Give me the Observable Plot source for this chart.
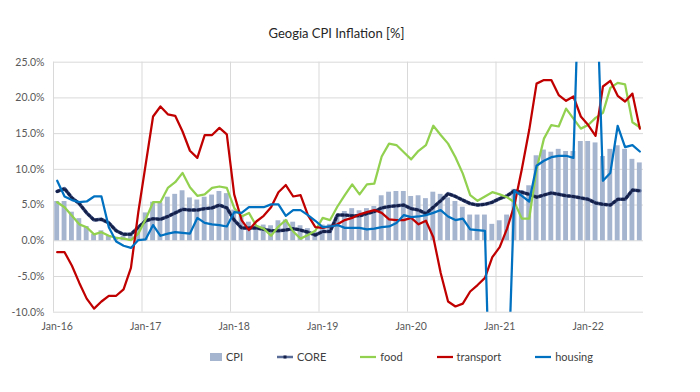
<!DOCTYPE html>
<html><head><meta charset="utf-8">
<script src="https://cdn.jsdelivr.net/npm/d3@7"></script>
<script src="https://cdn.jsdelivr.net/npm/@observablehq/plot@0.6"></script>
<style>
body{margin:0;background:#fff;font-family:Lato,"Open Sans",sans-serif;}
#wrap{position:relative;width:700px;height:392px;overflow:hidden;background:#fff}
#title{position:absolute;left:0;width:673px;top:25px;text-align:center;font-size:13px;color:#262626;line-height:16px}
#chart{position:absolute;left:0;top:50px}
#legend{position:absolute;left:210px;top:350px;display:flex;gap:34px;font-size:11px;color:#404040;align-items:center;line-height:14px}
.item{display:flex;align-items:center;gap:4px}
.item svg{display:block}
</style></head>
<body>
<div id="wrap">
  <div id="title">Geogia CPI Inflation [%]</div>
  <div id="chart"></div>
  <div id="legend"></div>
</div>
<script>
// Tick labels and y ticks
const xLabels = ["Jan-16","Jan-17","Jan-18","Jan-19","Jan-20","Jan-21","Jan-22"];
const yTicks = [-10,-5,0,5,10,15,20,25];

// Monthly series, Jan-2016 .. Aug-2022 (annual % change)
const cpi = [
  5.5,5.5,4.0,3.1,2.0,0.9,1.4,0.7,0.5,0.6,0.9,1.8,
  3.9,5.4,5.3,6.1,6.5,7.0,6.0,5.7,6.1,6.4,6.9,6.6,
  4.3,3.6,2.6,2.1,2.2,2.1,2.8,2.9,2.6,2.1,1.7,1.2,
  2.2,2.3,3.4,4.1,4.5,4.2,4.5,4.8,6.3,6.8,6.9,6.9,
  6.2,6.3,5.9,6.8,6.5,6.0,5.5,4.7,3.6,3.6,3.6,2.3,
  2.8,3.6,7.2,7.0,7.7,11.9,12.7,12.4,12.8,12.5,12.5,13.9,
  13.9,13.7,11.8,12.8,13.3,12.8,11.4,10.9
];
const core = [
  6.9,7.3,6.0,5.2,3.9,2.9,3.0,2.5,1.4,0.9,0.9,1.9,
  2.8,3.1,3.0,3.4,3.9,4.4,4.3,4.3,4.5,4.6,5.0,4.6,
  2.9,1.8,1.8,1.8,1.6,1.4,1.4,1.5,1.7,1.5,1.2,0.8,
  1.3,1.3,3.6,3.6,3.5,3.5,3.8,4.1,4.6,4.8,4.9,5.0,
  4.5,4.3,3.8,4.7,5.6,6.6,6.2,5.7,5.2,5.0,5.1,5.4,
  5.9,6.3,7.0,6.8,6.5,6.1,6.4,6.7,6.5,6.3,6.2,6.0,
  5.8,5.3,5.1,5.0,5.8,5.8,7.1,7.0
];
const food = [
  5.4,4.7,3.5,2.3,1.9,0.9,1.2,0.7,0.4,0.3,0.1,1.0,
  3.0,5.4,5.4,7.4,8.2,9.5,7.5,6.3,6.5,7.4,7.6,7.4,
  4.6,3.4,3.9,2.1,1.7,0.7,2.0,2.9,1.3,0.3,0.8,1.4,
  3.2,2.9,4.8,6.4,7.9,6.5,7.9,8.0,11.8,13.6,13.4,12.4,
  11.4,12.6,13.4,16.1,14.8,13.6,11.7,9.4,6.4,5.6,6.2,6.8,
  6.5,6.1,5.4,3.1,3.1,10.0,14.3,16.2,16.0,18.5,17.1,15.7,
  16.2,17.2,17.9,21.4,22.1,21.9,16.6,15.9
];
const transport = [
  -1.6,-1.6,-3.5,-5.9,-8.1,-9.5,-8.5,-7.7,-7.7,-6.8,-3.8,4.0,
  10.7,17.4,18.8,17.7,17.5,15.3,12.6,11.6,14.8,14.8,15.8,14.9,
  6.5,2.9,1.5,2.7,3.5,4.7,6.8,7.8,6.2,6.4,3.6,1.9,
  1.8,2.0,2.3,2.9,3.2,3.7,4.0,4.3,3.9,3.0,2.9,2.9,
  3.2,2.3,2.8,0.5,-4.5,-8.5,-9.2,-8.8,-7.1,-6.2,-5.2,-2.3,
  -0.9,1.7,5.0,10.0,15.5,22.0,22.5,22.5,20.4,19.6,20.2,17.4,
  16.2,14.7,21.6,22.4,20.3,19.5,20.6,15.7
];
const housing = [
  8.4,6.2,5.7,5.4,5.5,6.2,6.2,1.9,-0.1,-0.7,-1.0,0.1,
  0.2,2.2,0.7,1.0,1.2,1.1,1.0,3.2,2.5,2.3,2.2,2.0,
  4.0,3.9,4.7,4.7,4.7,5.1,5.1,3.5,4.3,4.3,3.6,2.8,
  1.9,2.0,2.2,1.8,1.8,1.8,1.6,1.7,1.9,2.0,2.5,3.6,
  3.3,3.4,3.6,3.9,4.3,3.4,2.9,3.1,1.6,1.5,1.4,-35,
  -33,-24,7.0,6.3,5.5,10.5,11.2,11.7,11.9,11.9,11.6,45,
  48,40,8.4,9.5,16.1,13.1,13.4,12.5
];

const C = {cpi:"#A6B5CF", coreBase:"#5A6C98", coreDot:"#15204A", food:"#92D050", transport:"#C00000", housing:"#0070C0"};

const rows = cpi.map((v, i) => ({i, cpi: v, core: core[i], food: food[i], transport: transport[i], housing: housing[i]}));
const janIdx = xLabels.map((_, k) => k * 12);
const mid = d => d.i + 0.5;

const chart = Plot.plot({
  width: 700, height: 290,
  marginTop: 11.7, marginBottom: 28.3, marginLeft: 53, marginRight: 57,
  x: {domain: [0, cpi.length], axis: null},
  y: {domain: [-10, 25], axis: null},
  style: {fontFamily: "Lato, 'Open Sans', sans-serif", fontSize: "10.5px", color: "#595959", background: "transparent"},
  marks: [
    Plot.gridY(yTicks, {stroke: "#D9D9D9", strokeOpacity: 1}),
    Plot.gridX(janIdx, {stroke: "#D9D9D9", strokeOpacity: 1}),
    Plot.rectY(rows, {x1: d => d.i + 0.17, x2: d => d.i + 0.83, y1: 0, y2: "cpi", fill: C.cpi}),
    Plot.line(rows, {x: mid, y: "core", stroke: C.coreBase, strokeWidth: 3.5}),
    Plot.line(rows, {x: mid, y: "core", stroke: C.coreDot, strokeWidth: 3, strokeDasharray: "1.8,3"}),
    Plot.line(rows, {x: mid, y: "food", stroke: C.food, strokeWidth: 2.25}),
    Plot.line(rows, {x: mid, y: "transport", stroke: C.transport, strokeWidth: 2.25}),
    Plot.line(rows, {x: mid, y: "housing", stroke: C.housing, strokeWidth: 2.25, clip: true}),
    Plot.axisY(yTicks, {tickSize: 0, tickPadding: 9, tickFormat: d => d.toFixed(1) + "%"}),
    Plot.axisX(janIdx.map(d => d + 0.5), {tickSize: 0, tickPadding: 10, tickFormat: d => xLabels[Math.round((d - 0.5) / 12)]})
  ]
});
document.getElementById("chart").appendChild(chart);

// Legend
const legendItems = [
  {name: "CPI", type: "bar", color: C.cpi},
  {name: "CORE", type: "core", color: C.coreBase},
  {name: "food", type: "line", color: C.food},
  {name: "transport", type: "line", color: C.transport},
  {name: "housing", type: "line", color: C.housing}
];
const leg = document.getElementById("legend");
for (const it of legendItems) {
  const div = document.createElement("div");
  div.className = "item";
  let sw;
  if (it.type === "bar") sw = `<svg width="12" height="8"><rect x="0" y="0" width="12" height="8" fill="${it.color}"/></svg>`;
  else if (it.type === "core") sw = `<svg width="16" height="8"><line x1="0" x2="16" y1="4" y2="4" stroke="${it.color}" stroke-width="2.5"/><rect x="6.5" y="2.5" width="3" height="3" fill="${C.coreDot}"/></svg>`;
  else sw = `<svg width="16" height="8"><line x1="0" x2="16" y1="4" y2="4" stroke="${it.color}" stroke-width="2.25"/></svg>`;
  div.innerHTML = sw + `<span>${it.name}</span>`;
  leg.appendChild(div);
}
</script>
</body></html>
